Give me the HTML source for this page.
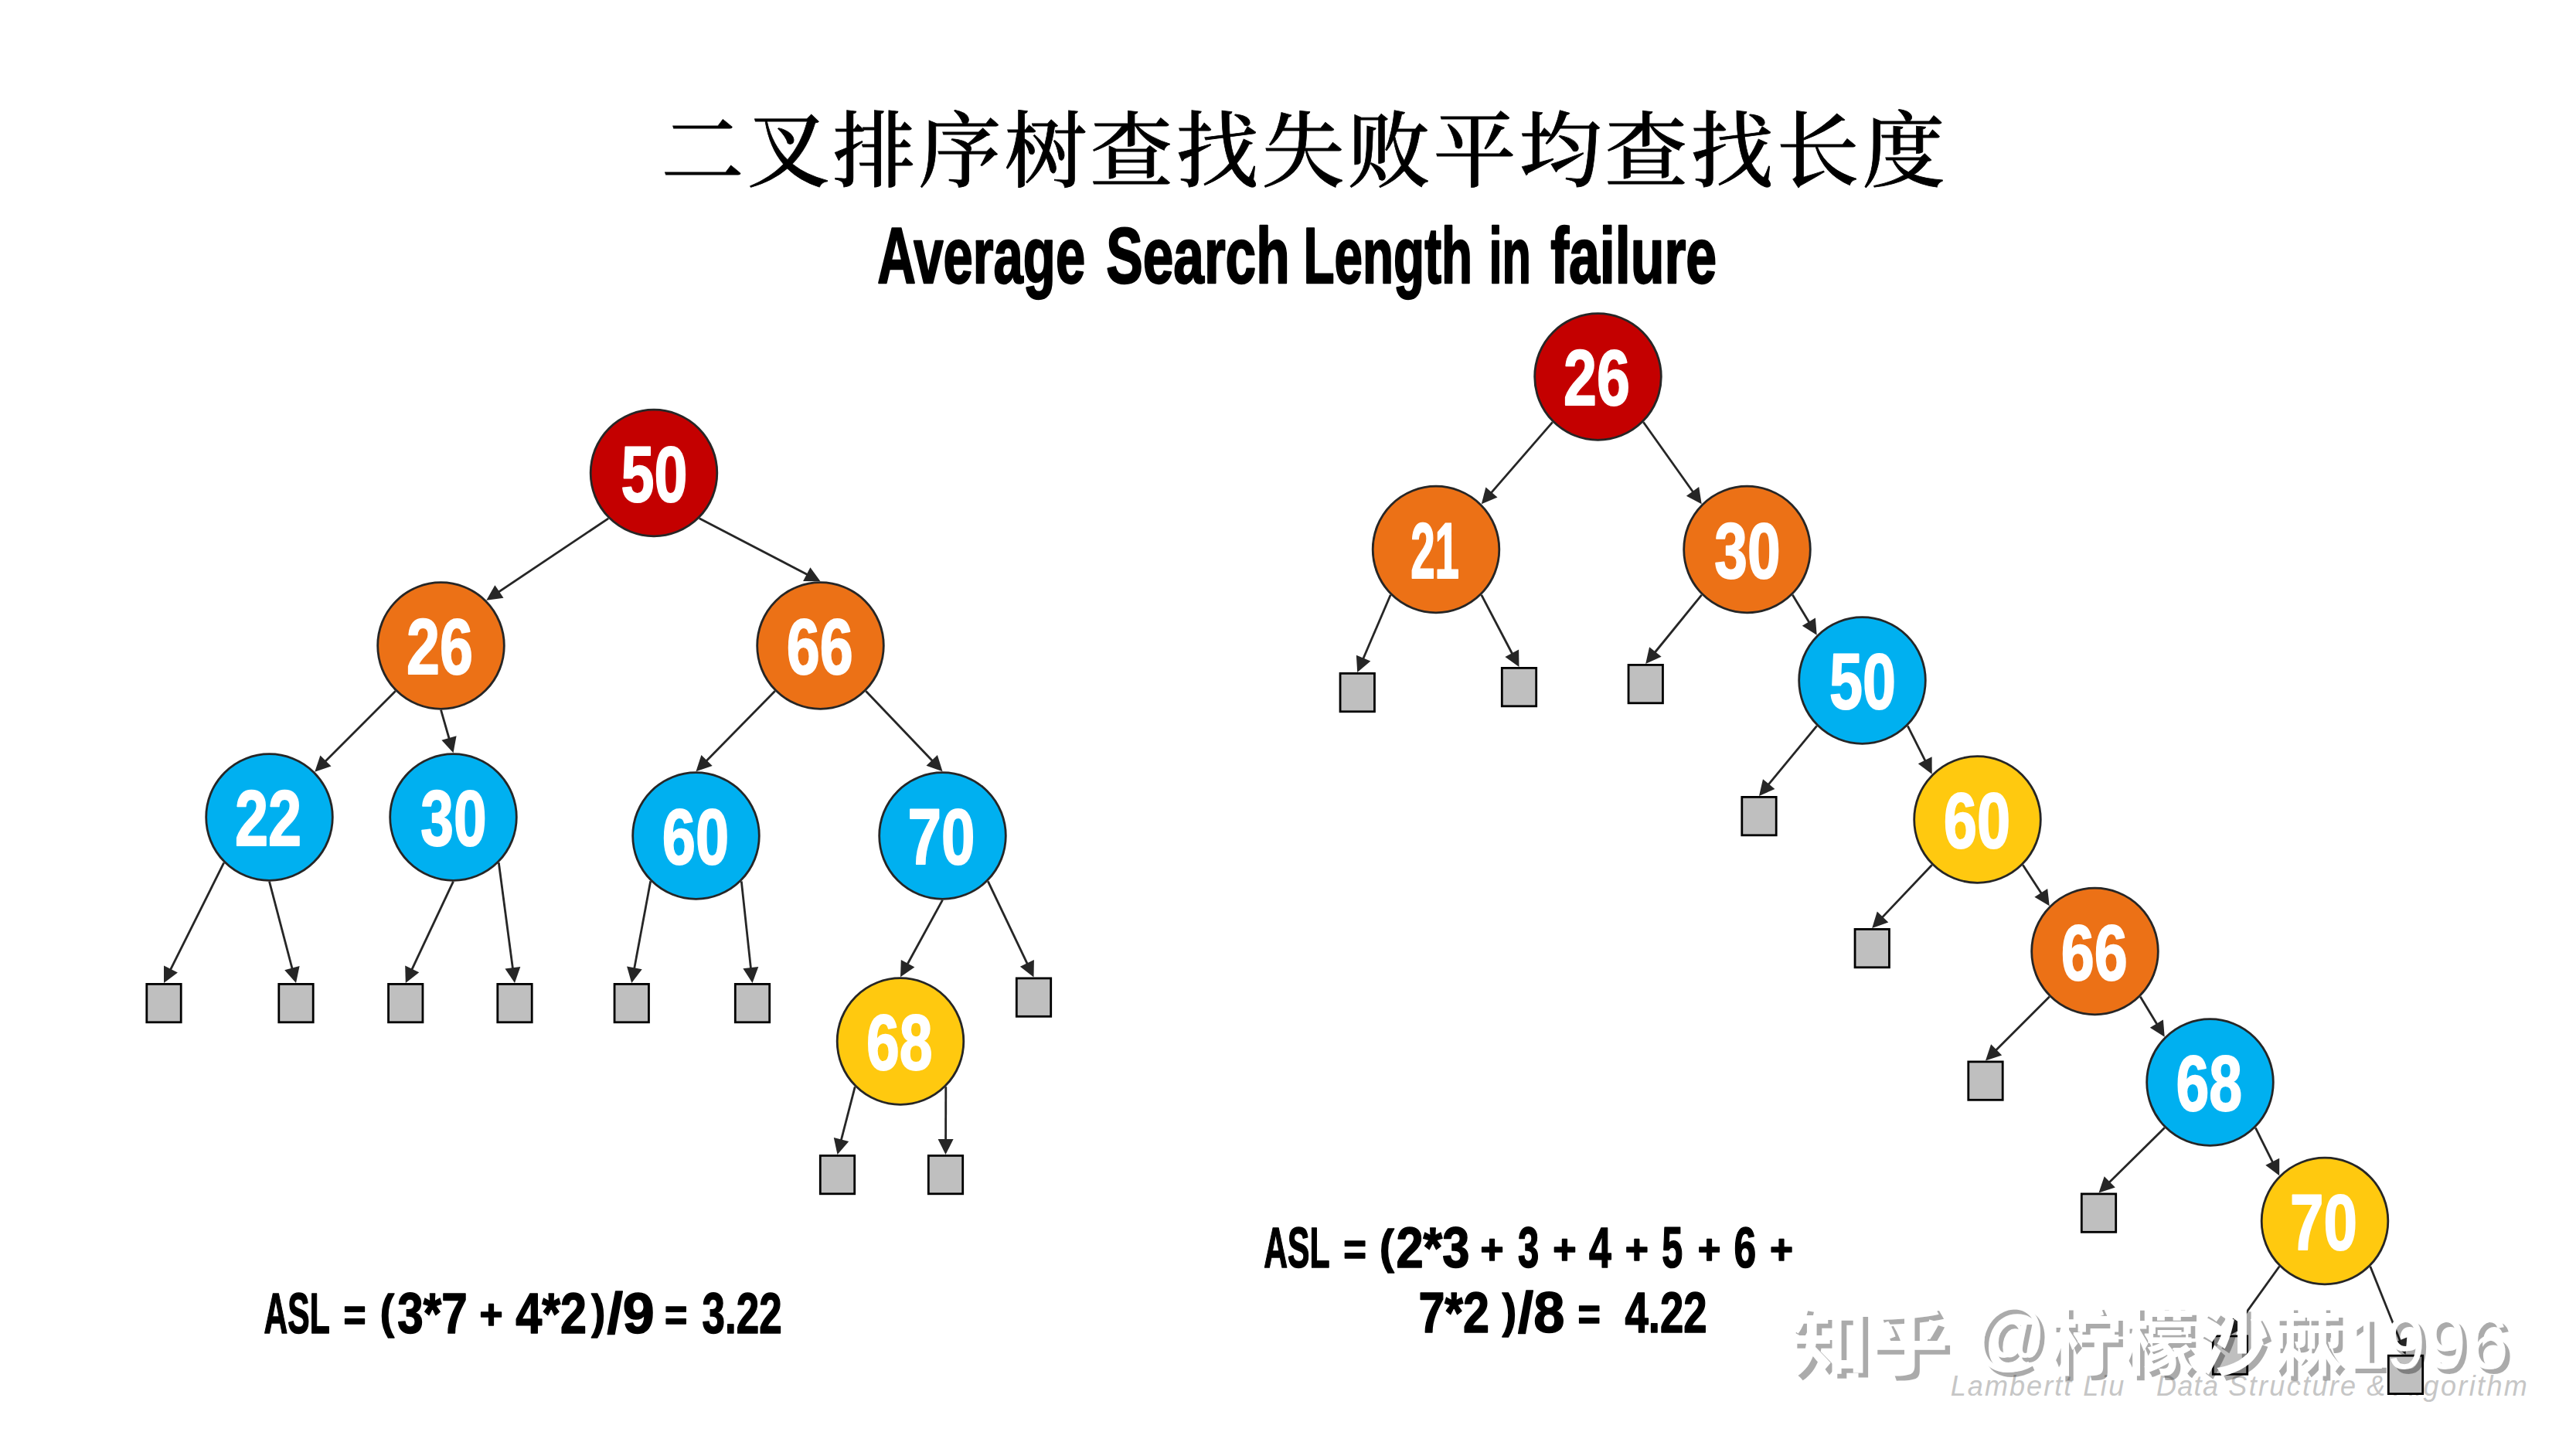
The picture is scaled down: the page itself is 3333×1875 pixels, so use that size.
<!DOCTYPE html>
<html lang="zh"><head><meta charset="utf-8"><title>二叉排序树查找失败平均查找长度</title>
<style>html,body{margin:0;padding:0;background:#fff}svg{display:block}</style></head>
<body>
<svg width="3333" height="1875" viewBox="0 0 3333 1875">
<rect width="3333" height="1875" fill="#fff"/>
<text x="1688" y="232.5" text-anchor="middle" font-family="'Liberation Serif', 'Noto Serif CJK SC', serif" font-size="107" letter-spacing="4" font-weight="500" fill="#000" stroke="#000" stroke-width="0.8">二叉排序树查找失败平均查找长度</text>
<text font-family="'Liberation Sans', sans-serif" font-weight="700" font-size="102.5" fill="#000" stroke="#000" stroke-width="2.4" stroke-linejoin="round"><tspan x="1135.19" y="366" textLength="268.96" lengthAdjust="spacingAndGlyphs">Average</tspan> <tspan x="1431.35" y="366" textLength="237.26" lengthAdjust="spacingAndGlyphs">Search</tspan> <tspan x="1686.51" y="366" textLength="218.55" lengthAdjust="spacingAndGlyphs">Length</tspan> <tspan x="1926.53" y="366" textLength="54.37" lengthAdjust="spacingAndGlyphs">in</tspan> <tspan x="2006.18" y="366" textLength="214.97" lengthAdjust="spacingAndGlyphs">failure</tspan></text>
<text y="1805.5" font-family="'Liberation Sans', sans-serif" font-style="italic" font-size="36" fill="#c6c6c6"><tspan x="2523.69" letter-spacing="2.08">Lambertt</tspan> <tspan x="2695.19" letter-spacing="2.54">Liu</tspan> <tspan x="2789.89" letter-spacing="1.33">Data</tspan> <tspan x="2883.28" letter-spacing="2.35">Structure</tspan> <tspan x="3062.32" letter-spacing="-0.10">&amp;</tspan> <tspan x="3098.78" letter-spacing="2.38">Algorithm</tspan></text>
<g stroke="#262626" stroke-width="2.8" fill="#262626" stroke-linecap="butt">
<line x1="787.2" y1="670.8" x2="644.3" y2="766.6"/>
<polygon stroke="none" points="629.3,776.7 640.4,757.2 651.5,773.8"/>
<line x1="904.8" y1="670.8" x2="1045.5" y2="744.0"/>
<polygon stroke="none" points="1061.5,752.3 1039.1,751.9 1048.4,734.2"/>
<line x1="511.7" y1="894.3" x2="420.1" y2="985.9"/>
<polygon stroke="none" points="407.3,998.7 414.4,977.5 428.5,991.6"/>
<line x1="570.5" y1="918.7" x2="581.5" y2="957.0"/>
<polygon stroke="none" points="586.5,974.3 571.4,957.8 590.6,952.3"/>
<line x1="1002.7" y1="894.3" x2="913.1" y2="985.5"/>
<polygon stroke="none" points="900.5,998.3 907.4,977.0 921.7,991.0"/>
<line x1="1120.3" y1="894.3" x2="1207.1" y2="985.3"/>
<polygon stroke="none" points="1219.5,998.3 1198.5,990.7 1212.9,976.9"/>
<line x1="289.7" y1="1116.3" x2="220.0" y2="1255.9"/>
<polygon stroke="none" points="212.0,1272.0 212.0,1249.6 229.9,1258.6"/>
<line x1="348.5" y1="1140.7" x2="378.4" y2="1254.6"/>
<polygon stroke="none" points="383.0,1272.0 368.2,1255.2 387.6,1250.1"/>
<line x1="586.5" y1="1140.7" x2="532.4" y2="1255.7"/>
<polygon stroke="none" points="524.8,1272.0 524.2,1249.6 542.3,1258.2"/>
<line x1="645.3" y1="1116.3" x2="663.6" y2="1254.2"/>
<polygon stroke="none" points="666.0,1272.0 653.5,1253.5 673.3,1250.9"/>
<line x1="841.7" y1="1140.3" x2="820.5" y2="1254.3"/>
<polygon stroke="none" points="817.2,1272.0 811.1,1250.5 830.7,1254.2"/>
<line x1="959.3" y1="1140.3" x2="971.6" y2="1254.1"/>
<polygon stroke="none" points="973.5,1272.0 961.4,1253.2 981.3,1251.0"/>
<line x1="1219.5" y1="1164.7" x2="1173.6" y2="1248.5"/>
<polygon stroke="none" points="1165.0,1264.3 1165.8,1242.0 1183.4,1251.6"/>
<line x1="1278.3" y1="1140.3" x2="1329.8" y2="1248.3"/>
<polygon stroke="none" points="1337.5,1264.5 1319.9,1250.7 1337.9,1242.1"/>
<line x1="1106.2" y1="1406.3" x2="1088.0" y2="1476.6"/>
<polygon stroke="none" points="1083.5,1494.0 1078.8,1472.1 1098.2,1477.1"/>
<line x1="1223.8" y1="1406.3" x2="1223.6" y2="1476.0"/>
<polygon stroke="none" points="1223.5,1494.0 1213.6,1474.0 1233.6,1474.0"/>
<line x1="2008.7" y1="546.3" x2="1928.6" y2="638.6"/>
<polygon stroke="none" points="1916.8,652.2 1922.4,630.5 1937.5,643.6"/>
<line x1="2126.3" y1="546.3" x2="2191.2" y2="637.5"/>
<polygon stroke="none" points="2201.7,652.2 2181.9,641.7 2198.2,630.1"/>
<line x1="1799.2" y1="769.8" x2="1763.3" y2="853.5"/>
<polygon stroke="none" points="1756.2,870.0 1754.9,847.7 1773.3,855.6"/>
<line x1="1916.8" y1="769.8" x2="1957.2" y2="847.0"/>
<polygon stroke="none" points="1965.5,863.0 1947.4,849.9 1965.1,840.6"/>
<line x1="2201.7" y1="769.8" x2="2140.6" y2="845.0"/>
<polygon stroke="none" points="2129.2,859.0 2134.1,837.2 2149.6,849.8"/>
<line x1="2319.3" y1="769.8" x2="2341.4" y2="806.3"/>
<polygon stroke="none" points="2350.7,821.7 2331.8,809.7 2348.9,799.4"/>
<line x1="2350.7" y1="939.3" x2="2287.4" y2="1016.1"/>
<polygon stroke="none" points="2276.0,1030.0 2281.0,1008.2 2296.4,1020.9"/>
<line x1="2468.3" y1="939.3" x2="2491.6" y2="985.6"/>
<polygon stroke="none" points="2499.7,1001.7 2481.8,988.3 2499.6,979.3"/>
<line x1="2499.7" y1="1119.3" x2="2434.6" y2="1187.9"/>
<polygon stroke="none" points="2422.2,1201.0 2428.8,1179.6 2443.3,1193.4"/>
<line x1="2617.3" y1="1119.3" x2="2641.9" y2="1157.1"/>
<polygon stroke="none" points="2651.7,1172.2 2632.4,1160.8 2649.2,1149.9"/>
<line x1="2651.7" y1="1289.8" x2="2581.7" y2="1359.8"/>
<polygon stroke="none" points="2569.0,1372.5 2576.1,1351.3 2590.2,1365.4"/>
<line x1="2769.3" y1="1289.8" x2="2791.4" y2="1326.3"/>
<polygon stroke="none" points="2800.7,1341.7 2781.8,1329.7 2798.9,1319.4"/>
<line x1="2800.7" y1="1459.3" x2="2728.3" y2="1530.8"/>
<polygon stroke="none" points="2715.5,1543.5 2722.7,1522.3 2736.8,1536.6"/>
<line x1="2918.3" y1="1459.3" x2="2941.1" y2="1505.1"/>
<polygon stroke="none" points="2949.2,1521.2 2931.3,1507.7 2949.2,1498.8"/>
<line x1="2949.2" y1="1638.8" x2="2896.0" y2="1712.9"/>
<polygon stroke="none" points="2885.5,1727.5 2889.0,1705.4 2905.3,1717.1"/>
<line x1="3066.8" y1="1638.8" x2="3105.8" y2="1736.1"/>
<polygon stroke="none" points="3112.5,1752.8 3095.8,1738.0 3114.3,1730.5"/>
</g>
<g stroke="#000" stroke-width="2.8" fill="#BFBFBF">
<rect x="189.80" y="1273.40" width="44.4" height="49.4"/>
<rect x="360.80" y="1273.40" width="44.4" height="49.4"/>
<rect x="502.55" y="1273.40" width="44.4" height="49.4"/>
<rect x="643.80" y="1273.40" width="44.4" height="49.4"/>
<rect x="795.05" y="1273.40" width="44.4" height="49.4"/>
<rect x="951.30" y="1273.40" width="44.4" height="49.4"/>
<rect x="1315.30" y="1265.90" width="44.4" height="49.4"/>
<rect x="1061.30" y="1495.40" width="44.4" height="49.4"/>
<rect x="1201.30" y="1495.40" width="44.4" height="49.4"/>
<rect x="1734.05" y="871.40" width="44.4" height="49.4"/>
<rect x="1943.30" y="864.40" width="44.4" height="49.4"/>
<rect x="2107.05" y="860.40" width="44.4" height="49.4"/>
<rect x="2253.80" y="1031.40" width="44.4" height="49.4"/>
<rect x="2400.05" y="1202.40" width="44.4" height="49.4"/>
<rect x="2546.80" y="1373.90" width="44.4" height="49.4"/>
<rect x="2693.30" y="1544.90" width="44.4" height="49.4"/>
<rect x="2863.30" y="1728.90" width="44.4" height="49.4"/>
<rect x="3090.30" y="1754.20" width="44.4" height="49.4"/>
</g>
<g stroke="#262626" stroke-width="2.8">
<circle cx="846" cy="612" r="81.80" fill="#C40000"/>
<circle cx="570.5" cy="835.5" r="81.80" fill="#EC7116"/>
<circle cx="1061.5" cy="835.5" r="81.80" fill="#EC7116"/>
<circle cx="348.5" cy="1057.5" r="81.80" fill="#00B0F0"/>
<circle cx="586.5" cy="1057.5" r="81.80" fill="#00B0F0"/>
<circle cx="900.5" cy="1081.5" r="81.80" fill="#00B0F0"/>
<circle cx="1219.5" cy="1081.5" r="81.80" fill="#00B0F0"/>
<circle cx="1165" cy="1347.5" r="81.80" fill="#FFC90F"/>
<circle cx="2067.5" cy="487.5" r="81.80" fill="#C40000"/>
<circle cx="1858" cy="711" r="81.80" fill="#EC7116"/>
<circle cx="2260.5" cy="711" r="81.80" fill="#EC7116"/>
<circle cx="2409.5" cy="880.5" r="81.80" fill="#00B0F0"/>
<circle cx="2558.5" cy="1060.5" r="81.80" fill="#FFC90F"/>
<circle cx="2710.5" cy="1231" r="81.80" fill="#EC7116"/>
<circle cx="2859.5" cy="1400.5" r="81.80" fill="#00B0F0"/>
<circle cx="3008" cy="1580" r="81.80" fill="#FFC90F"/>
</g>
<text font-family="'Liberation Sans', sans-serif" font-weight="700" font-size="102" fill="#fff" stroke="#fff" stroke-width="2.0" stroke-linejoin="round"><tspan x="803.42" y="648.5" textLength="85.95" lengthAdjust="spacingAndGlyphs">50</tspan></text>
<text font-family="'Liberation Sans', sans-serif" font-weight="700" font-size="102" fill="#fff" stroke="#fff" stroke-width="2.0" stroke-linejoin="round"><tspan x="526.02" y="872.0" textLength="85.87" lengthAdjust="spacingAndGlyphs">26</tspan></text>
<text font-family="'Liberation Sans', sans-serif" font-weight="700" font-size="102" fill="#fff" stroke="#fff" stroke-width="2.0" stroke-linejoin="round"><tspan x="1017.67" y="872.0" textLength="86.03" lengthAdjust="spacingAndGlyphs">66</tspan></text>
<text font-family="'Liberation Sans', sans-serif" font-weight="700" font-size="102" fill="#fff" stroke="#fff" stroke-width="2.0" stroke-linejoin="round"><tspan x="303.91" y="1094.0" textLength="86.19" lengthAdjust="spacingAndGlyphs">22</tspan></text>
<text font-family="'Liberation Sans', sans-serif" font-weight="700" font-size="102" fill="#fff" stroke="#fff" stroke-width="2.0" stroke-linejoin="round"><tspan x="544.24" y="1094.0" textLength="85.31" lengthAdjust="spacingAndGlyphs">30</tspan></text>
<text font-family="'Liberation Sans', sans-serif" font-weight="700" font-size="102" fill="#fff" stroke="#fff" stroke-width="2.0" stroke-linejoin="round"><tspan x="856.85" y="1118.0" textLength="86.43" lengthAdjust="spacingAndGlyphs">60</tspan></text>
<text font-family="'Liberation Sans', sans-serif" font-weight="700" font-size="102" fill="#fff" stroke="#fff" stroke-width="2.0" stroke-linejoin="round"><tspan x="1174.54" y="1118.0" textLength="86.97" lengthAdjust="spacingAndGlyphs">70</tspan></text>
<text font-family="'Liberation Sans', sans-serif" font-weight="700" font-size="102" fill="#fff" stroke="#fff" stroke-width="2.0" stroke-linejoin="round"><tspan x="1120.98" y="1384.0" textLength="85.58" lengthAdjust="spacingAndGlyphs">68</tspan></text>
<text font-family="'Liberation Sans', sans-serif" font-weight="700" font-size="102" fill="#fff" stroke="#fff" stroke-width="2.0" stroke-linejoin="round"><tspan x="2023.02" y="524.0" textLength="85.87" lengthAdjust="spacingAndGlyphs">26</tspan></text>
<text font-family="'Liberation Sans', sans-serif" font-weight="700" font-size="102" fill="#fff" stroke="#fff" stroke-width="2.0" stroke-linejoin="round"><tspan x="1825.14" y="747.5" textLength="62.94" lengthAdjust="spacingAndGlyphs">21</tspan></text>
<text font-family="'Liberation Sans', sans-serif" font-weight="700" font-size="102" fill="#fff" stroke="#fff" stroke-width="2.0" stroke-linejoin="round"><tspan x="2218.24" y="747.5" textLength="85.31" lengthAdjust="spacingAndGlyphs">30</tspan></text>
<text font-family="'Liberation Sans', sans-serif" font-weight="700" font-size="102" fill="#fff" stroke="#fff" stroke-width="2.0" stroke-linejoin="round"><tspan x="2366.92" y="917.0" textLength="85.95" lengthAdjust="spacingAndGlyphs">50</tspan></text>
<text font-family="'Liberation Sans', sans-serif" font-weight="700" font-size="102" fill="#fff" stroke="#fff" stroke-width="2.0" stroke-linejoin="round"><tspan x="2514.85" y="1097.0" textLength="86.43" lengthAdjust="spacingAndGlyphs">60</tspan></text>
<text font-family="'Liberation Sans', sans-serif" font-weight="700" font-size="102" fill="#fff" stroke="#fff" stroke-width="2.0" stroke-linejoin="round"><tspan x="2666.67" y="1267.5" textLength="86.03" lengthAdjust="spacingAndGlyphs">66</tspan></text>
<text font-family="'Liberation Sans', sans-serif" font-weight="700" font-size="102" fill="#fff" stroke="#fff" stroke-width="2.0" stroke-linejoin="round"><tspan x="2815.48" y="1437.0" textLength="85.58" lengthAdjust="spacingAndGlyphs">68</tspan></text>
<text font-family="'Liberation Sans', sans-serif" font-weight="700" font-size="102" fill="#fff" stroke="#fff" stroke-width="2.0" stroke-linejoin="round"><tspan x="2963.04" y="1616.5" textLength="86.97" lengthAdjust="spacingAndGlyphs">70</tspan></text>
<text font-family="'Liberation Sans', sans-serif" font-weight="700" font-size="74" fill="#000" stroke="#000" stroke-width="1.6" stroke-linejoin="round"><tspan x="341.55" y="1724.7" textLength="84.35" lengthAdjust="spacingAndGlyphs">ASL</tspan> <tspan x="444.54" y="1720.7" font-size="58.0" textLength="29.00" lengthAdjust="spacingAndGlyphs">=</tspan> <tspan x="491.86" y="1717.8" font-size="60.4" textLength="18.29" lengthAdjust="spacingAndGlyphs">(</tspan><tspan x="514.22" y="1724.7" textLength="90.43" lengthAdjust="spacingAndGlyphs">3*7</tspan> <tspan x="620.44" y="1719.3" font-size="54.0" textLength="30.05" lengthAdjust="spacingAndGlyphs">+</tspan> <tspan x="667.27" y="1724.7" textLength="91.77" lengthAdjust="spacingAndGlyphs">4*2</tspan><tspan x="765.15" y="1717.8" font-size="60.4" textLength="17.93" lengthAdjust="spacingAndGlyphs">)</tspan><tspan x="785.38" y="1724.7" textLength="61.45" lengthAdjust="spacingAndGlyphs">/9</tspan> <tspan x="860.11" y="1720.7" font-size="58.0" textLength="29.35" lengthAdjust="spacingAndGlyphs">=</tspan> <tspan x="908.48" y="1724.7" textLength="103.14" lengthAdjust="spacingAndGlyphs">3.22</tspan></text>
<text font-family="'Liberation Sans', sans-serif" font-weight="700" font-size="74" fill="#000" stroke="#000" stroke-width="1.6" stroke-linejoin="round"><tspan x="1635.15" y="1640.4" textLength="84.55" lengthAdjust="spacingAndGlyphs">ASL</tspan> <tspan x="1738.29" y="1636.4" font-size="58.0" textLength="29.70" lengthAdjust="spacingAndGlyphs">=</tspan> <tspan x="1784.89" y="1633.5" font-size="60.4" textLength="18.76" lengthAdjust="spacingAndGlyphs">(</tspan><tspan x="1806.40" y="1640.4" textLength="95.08" lengthAdjust="spacingAndGlyphs">2*3</tspan> <tspan x="1915.44" y="1635.0" font-size="54.0" textLength="30.05" lengthAdjust="spacingAndGlyphs">+</tspan> <tspan x="1963.97" y="1640.4" textLength="27.30" lengthAdjust="spacingAndGlyphs">3</tspan> <tspan x="2009.31" y="1635.0" font-size="54.0" textLength="30.39" lengthAdjust="spacingAndGlyphs">+</tspan> <tspan x="2056.02" y="1640.4" textLength="28.76" lengthAdjust="spacingAndGlyphs">4</tspan> <tspan x="2102.63" y="1635.0" font-size="54.0" textLength="30.16" lengthAdjust="spacingAndGlyphs">+</tspan> <tspan x="2150.31" y="1640.4" textLength="26.94" lengthAdjust="spacingAndGlyphs">5</tspan> <tspan x="2196.66" y="1635.0" font-size="54.0" textLength="29.70" lengthAdjust="spacingAndGlyphs">+</tspan> <tspan x="2243.61" y="1640.4" textLength="28.65" lengthAdjust="spacingAndGlyphs">6</tspan> <tspan x="2289.94" y="1635.0" font-size="54.0" textLength="30.05" lengthAdjust="spacingAndGlyphs">+</tspan></text>
<text font-family="'Liberation Sans', sans-serif" font-weight="700" font-size="74" fill="#000" stroke="#000" stroke-width="1.6" stroke-linejoin="round"><tspan x="1835.38" y="1723.8" textLength="91.67" lengthAdjust="spacingAndGlyphs">7*2</tspan> <tspan x="1943.65" y="1716.9" font-size="60.4" textLength="18.41" lengthAdjust="spacingAndGlyphs">)</tspan><tspan x="1964.09" y="1723.8" textLength="60.23" lengthAdjust="spacingAndGlyphs">/8</tspan> <tspan x="2041.51" y="1719.8" font-size="58.0" textLength="29.35" lengthAdjust="spacingAndGlyphs">=</tspan> <tspan x="2102.48" y="1723.8" textLength="106.01" lengthAdjust="spacingAndGlyphs">4.22</tspan></text>
<text font-family="'Liberation Sans', 'Noto Sans CJK SC', sans-serif" font-size="96" font-weight="700" fill="#fff" style="text-shadow:6px 6px 0 rgba(0,0,0,0.33)"><tspan x="2314.89" y="1771" textLength="104.06" lengthAdjust="spacingAndGlyphs">知</tspan><tspan x="2417.94" y="1771" textLength="103.11" lengthAdjust="spacingAndGlyphs">乎</tspan> <tspan x="2553.79" y="1761.7" font-size="102" font-weight="400" textLength="94.34" lengthAdjust="spacingAndGlyphs">@</tspan><tspan x="2650.96" y="1771" textLength="93.98" lengthAdjust="spacingAndGlyphs">柠</tspan><tspan x="2745.97" y="1771" textLength="94.01" lengthAdjust="spacingAndGlyphs">檬</tspan><tspan x="2842.50" y="1771" textLength="93.59" lengthAdjust="spacingAndGlyphs">沙</tspan><tspan x="2939.94" y="1771" textLength="90.25" lengthAdjust="spacingAndGlyphs">棘</tspan><tspan x="3034.60" y="1771" font-weight="400" textLength="51.85" lengthAdjust="spacingAndGlyphs">1</tspan><tspan x="3087.45" y="1771" font-weight="400" textLength="50.45" lengthAdjust="spacingAndGlyphs">9</tspan><tspan x="3140.15" y="1771" font-weight="400" textLength="50.45" lengthAdjust="spacingAndGlyphs">9</tspan><tspan x="3193.08" y="1771" font-weight="400" textLength="52.79" lengthAdjust="spacingAndGlyphs">6</tspan></text>
</svg>
</body></html>
